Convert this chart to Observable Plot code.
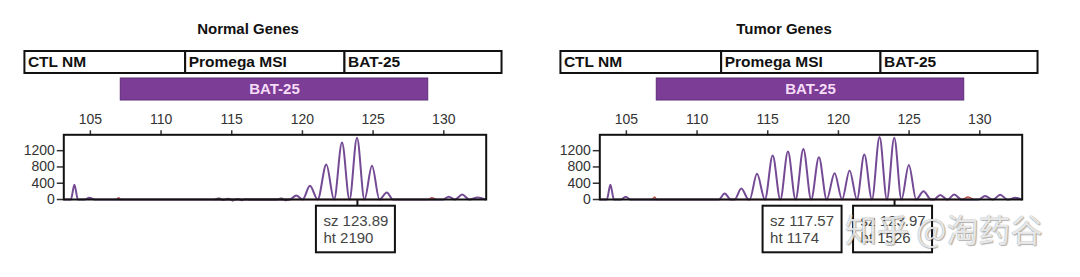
<!DOCTYPE html>
<html>
<head>
<meta charset="utf-8">
<script src="https://cdn.jsdelivr.net/npm/d3@7"></script>
<script src="https://cdn.jsdelivr.net/npm/@observablehq/plot@0.6"></script>
<style>
  html, body { margin: 0; padding: 0; background: #fff; }
  body { width: 1080px; height: 277px; position: relative; overflow: hidden; font-family: "Liberation Sans", Arial, sans-serif; }
  .panel { position: absolute; top: 0; width: 540px; height: 277px; }
  .title { position: absolute; top: 20px; left: 0; width: 496px; text-align: center; font-weight: bold; font-size: 15px; color: #111; }
  .header { position: absolute; top: 0; left: 0; }
  .trace { position: absolute; top: 105px; left: 0; }
  .wm { position: absolute; left: 845px; top: 209px; font-family: "Noto Sans CJK SC", sans-serif; font-size: 32px; line-height: 38px; color: rgba(255,255,255,0.82); text-shadow: 0 0 1px rgba(60,60,60,0.6), 1px 1px 1px rgba(60,60,60,0.35); white-space: nowrap; }
</style>
</head>
<body>
<script>
// ---------------- DATA ----------------
const panelTitles = ["Normal Genes", "Tumor Genes"];

// Bin / panel boxes (size in bp)
const panelBins = [
  {name: "CTL NM", start: 100.37, end: 111.74},
  {name: "Promega MSI", start: 111.74, end: 123.01},
  {name: "BAT-25", start: 123.01, end: 134.12}
];
const markerBins = [
  {name: "BAT-25", start: 107.15, end: 128.9}
];

const xTicks = [105, 110, 115, 120, 125, 130];
const yTicks = [0, 400, 800, 1200];

// Normal sample trace: [size, height] read at peaks and valleys
const normalTrace = [
  [103.15,0],[103.62,0],[103.87,360],[104.12,0],[104.6,0],[104.93,45],[105.3,0],
  [119.1,0],[119.56,100],[120.02,0],[120.53,335],[121.08,0],[121.69,860],[122.24,0],
  [122.8,1400],[123.33,0],[123.86,1520],[124.39,0],[124.92,830],[125.45,0],
  [125.97,170],[126.4,0],[129.95,0],[130.35,70],[130.8,0],[131.3,120],[131.8,0],
  [132.4,50],[132.95,0]
];
const normalNoise = [
  [113.8,0],[114.1,25],[114.4,-15],[114.75,20],[115.05,-25],[115.4,15],[115.7,-20],[116.0,10],[116.3,0],
  [118.2,0],[118.5,30],[118.8,-20],[119.1,0]
];
const normalRed = [[106.85,0],[107.0,45],[107.15,0],[128.9,0],[129.15,40],[129.45,0]];

// Tumor sample trace
const tumorTrace = [
  [103.15,0],[103.62,0],[103.87,360],[104.12,0],[104.6,0],[104.95,65],[105.3,0],
  [111.55,0],[111.95,145],[112.4,0],[112.65,0],[113.13,270],[113.65,0],[113.72,0],
  [114.24,630],[114.8,0],[115.35,1080],[115.89,0],[116.43,1178],[116.97,0],
  [117.52,1243],[118.07,0],[118.62,1040],[119.17,0],[119.73,645],[120.26,0],
  [120.79,715],[121.31,0],[121.83,1105],[122.37,0],[122.91,1537],[123.43,0],
  [123.95,1520],[124.46,0],[124.98,850],[125.5,0],[126.02,203],[126.55,0],
  [126.75,0],[127.2,110],[127.7,0],[127.72,0],[128.19,120],[128.7,0],
  [129.9,0],[130.38,85],[130.9,0],[130.95,0],[131.44,118],[131.95,0],[132.05,0],[132.5,45],[132.95,0]
];
const tumorNoise = [];
const tumorRed = [[106.85,0],[107.0,60],[107.15,0],[128.75,0],[129.16,60],[129.55,0]];

// Peak annotations
const normalLabels = [{sz: 123.89, ht: 2190, selected: true}];
const tumorLabels = [
  {sz: 117.57, ht: 1174, selected: false},
  {sz: 123.97, ht: 1526, selected: true}
];

// ---------------- DRAWING ----------------
const xDomain = [103.12, 133.0];
const W = 540, ML = 63.3, MR = 54.3;
const purple = "#744a95";
const toObj = a => a.map(([s, h]) => ({s, h}));

function header() {
  return Plot.plot({
    width: W, height: 105,
    marginLeft: ML, marginRight: MR, marginTop: 0, marginBottom: 0,
    style: {fontFamily: "Liberation Sans, Arial, sans-serif", background: "transparent"},
    x: {domain: xDomain, axis: null},
    y: {type: "band", domain: ["panel", "marker"], range: [50.7, 100.3], paddingInner: 0.18, paddingOuter: 0, axis: null},
    marks: [
      Plot.rect(panelBins, {x1: "start", x2: "end", y: () => "panel", fill: "white", stroke: "#111", strokeWidth: 2}),
      Plot.text(panelBins, {x: "start", y: () => "panel", text: "name", textAnchor: "start", dx: 3, fontSize: 15.5, fontWeight: "bold", fill: "#111"}),
      Plot.rect(markerBins, {x1: "start", x2: "end", y: () => "marker", fill: "#7b3d96", stroke: "#5e2c78", strokeWidth: 1}),
      Plot.text(markerBins, {x: d => (d.start + d.end) / 2, y: () => "marker", text: "name", fontSize: 15, fontWeight: "bold", fill: "#f7dcf6"})
    ]
  });
}

function trace(main, noise, red, labels) {
  const sel = labels.filter(d => d.selected);
  return Plot.plot({
    width: W, height: 172,
    marginLeft: ML, marginRight: MR, marginTop: 29.3, marginBottom: 78,
    style: {fontFamily: "Liberation Sans, Arial, sans-serif", background: "transparent", overflow: "visible"},
    x: {domain: xDomain, label: null},
    y: {domain: [0, 1590], label: null},
    marks: [
      Plot.axisX(xTicks, {anchor: "top", tickSize: 5, tickPadding: 6, fontSize: 14, color: "#333", strokeWidth: 1.5, label: null}),
      Plot.axisY(yTicks, {anchor: "left", tickSize: 6.5, tickPadding: 2.5, fontSize: 14, color: "#333", strokeWidth: 1.5, label: null, tickFormat: d => String(d)}),
      Plot.line(toObj(noise), {x: "s", y: "h", curve: "monotone-x", stroke: "#3d3d3d", strokeWidth: 1.8}),
      Plot.line(toObj(red), {x: "s", y: "h", curve: "monotone-x", stroke: "#c0504d", strokeWidth: 1.5}),
      Plot.line(toObj(main), {x: "s", y: "h", curve: "monotone-x", stroke: purple, strokeWidth: 2}),
      Plot.frame({stroke: "#111", strokeWidth: 2}),
      Plot.ruleX(sel, {x: "sz", y1: () => 0, y2: () => 0, insetBottom: -7, stroke: "#111", strokeWidth: 2}),
      Plot.rect(labels, {x1: "sz", x2: "sz", insetLeft: -41, insetRight: -38,
        insetTop: 71.4, insetBottom: -53.3, fill: "white", stroke: "#111", strokeWidth: 2}),
      Plot.text(labels, {x: "sz", y: () => 0, text: d => `sz ${d.sz.toFixed(2)}\nht ${d.ht}`,
        textAnchor: "start", lineAnchor: "top", dx: -34, dy: 14, fontSize: 15, lineHeight: 1.16, fill: "#444"})
    ]
  });
}

const configs = [
  {left: 0, title: panelTitles[0], main: normalTrace, noise: normalNoise, red: normalRed, labels: normalLabels},
  {left: 536, title: panelTitles[1], main: tumorTrace, noise: tumorNoise, red: tumorRed, labels: tumorLabels}
];

for (const c of configs) {
  const div = document.createElement("div");
  div.className = "panel";
  div.style.left = c.left + "px";
  const t = document.createElement("div");
  t.className = "title";
  t.textContent = c.title;
  div.appendChild(t);
  const h = header(); h.classList.add("header"); div.appendChild(h);
  const tr = trace(c.main, c.noise, c.red, c.labels); tr.classList.add("trace"); div.appendChild(tr);
  document.body.appendChild(div);
}

const wm = document.createElement("div");
wm.className = "wm";
wm.textContent = "知乎 @淘药谷";
document.body.appendChild(wm);
</script>
</body>
</html>
